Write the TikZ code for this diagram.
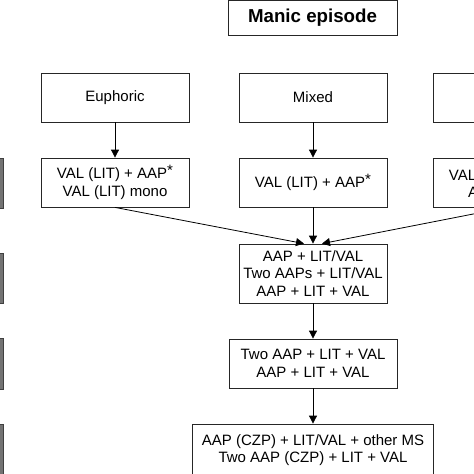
\documentclass[tikz,border=0pt]{standalone}
\usepackage{fontspec}
\setmainfont{Liberation Sans}
\usetikzlibrary{arrows.meta,calc}
\tikzset{
  box/.style={draw=black!85, line width=0.8pt, rectangle, align=center, inner sep=0pt,
    font=\fontsize{15}{17.5}\selectfont, text=black},
  sidebar/.style={draw=black!75, line width=0.6pt, fill=black!55, rectangle, inner sep=0pt},
  conn/.style={draw=black, line width=0.8pt, -{Triangle[length=8pt,width=8pt]}},
}
\newcommand{\myast}{\raisebox{0.35ex}{*}}
\begin{document}
\begin{tikzpicture}[x=1pt,y=-1pt]
\useasboundingbox (0,0) rectangle (474,474);
\clip (0,0) rectangle (474,474);
% left clipped side bars
\node[sidebar, minimum width=40, minimum height=50] (s1) at (-17,183) {};
\node[sidebar, minimum width=40, minimum height=50] (s2) at (-17,278) {};
\node[sidebar, minimum width=40, minimum height=51] (s3) at (-17,364) {};
\node[sidebar, minimum width=40, minimum height=60] (s4) at (-17,454) {};
% title
\node[box, minimum width=169, minimum height=35, font=\fontsize{18.7}{21}\selectfont\bfseries] (manic) at (312.5,17.5) {Manic episode};
% row 1
\node[box, minimum width=148, minimum height=49] (eu) at (115,97.5) {Euphoric};
\node[box, minimum width=148, minimum height=49] (mx) at (313,97.5) {Mixed};
\node[box, minimum width=148, minimum height=49] (th) at (507,97.5) {};
% row 2
\node[box, minimum width=148, minimum height=49] (eut) at (115,182.5) {VAL (LIT) + AAP\myast\\VAL (LIT) mono};
\node[box, minimum width=148, minimum height=49] (mxt) at (313,182.5) {VAL (LIT) + AAP\myast};
\node[box, minimum width=148, minimum height=49] (tht) at (507,182.5) {VAL (LIT) + AAP\myast\\AAP\myast\ mono};
% row 3
\node[box, minimum width=148, minimum height=59] (r3) at (313,273.5) {AAP + LIT/VAL\\Two AAPs + LIT/VAL\\AAP + LIT + VAL};
% row 4
\node[box, minimum width=168, minimum height=49] (r4) at (313,363.5) {Two AAP + LIT + VAL\\AAP + LIT + VAL};
% row 5
\node[box, minimum width=241, minimum height=52] (r5) at (313,450) {AAP (CZP) + LIT/VAL + other MS\\Two AAP (CZP) + LIT + VAL};
% connectors
\draw[conn] (eu.south) -- (eut.north);
\draw[conn] (mx.south) -- (mxt.north);
\draw[conn] (eut.south) -- ($(r3.north)+(-9,0)$);
\draw[conn] (mxt.south) -- (r3.north);
\draw[conn] (tht.south) -- ($(r3.north)+(9,0)$);
\draw[conn] (r3.south) -- (r4.north);
\draw[conn] (r4.south) -- (r5.north);
\end{tikzpicture}
\end{document}
